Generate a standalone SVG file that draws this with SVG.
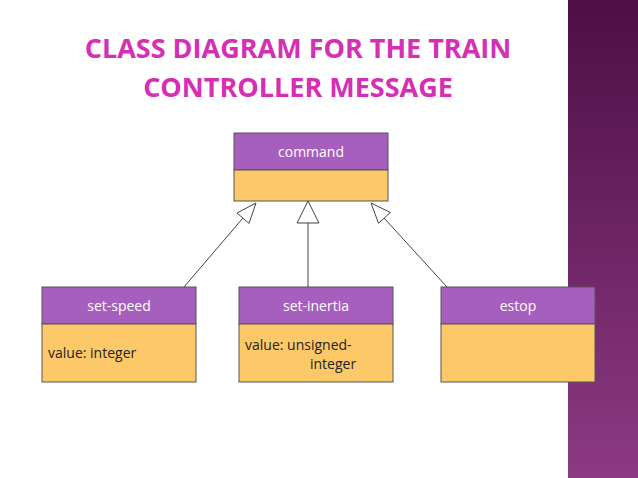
<svg xmlns="http://www.w3.org/2000/svg" width="638" height="478" viewBox="0 0 638 478">
<defs>
<linearGradient id="bar" x1="0" y1="0" x2="0" y2="1"><stop offset="0" stop-color="#4e0f45"/><stop offset="1" stop-color="#8c3a82"/></linearGradient>
<style>
.h{fill:#a65fbd;stroke:#555;stroke-width:1}
.b{fill:#fdc968;stroke:#555;stroke-width:1}
.t{font-family:"Open Sans","DejaVu Sans",sans-serif;font-size:14px}
.w{fill:#fff;text-anchor:middle}
.k{fill:#222}
.c{stroke:#444;stroke-width:1;fill:none}
.a{fill:#fff;stroke:#444;stroke-width:1}
</style>
</defs>
<rect width="638" height="478" fill="#fff"/>
<rect x="568" y="0" width="70" height="478" fill="url(#bar)"/>
<text x="298" y="58" text-anchor="middle" font-family="'Open Sans','DejaVu Sans',sans-serif" font-weight="bold" font-size="27" fill="#d42fb5">CLASS DIAGRAM FOR THE TRAIN</text>
<text x="298" y="97" text-anchor="middle" font-family="'Open Sans','DejaVu Sans',sans-serif" font-weight="bold" font-size="27" fill="#d42fb5">CONTROLLER MESSAGE</text>
<g id="command"><rect class="h" x="234" y="133" width="154" height="37"/><rect class="b" x="234" y="170" width="154" height="31"/><text class="t w" x="311" y="157">command</text></g>
<g id="set-speed"><rect class="h" x="42" y="287" width="154" height="37"/><rect class="b" x="42" y="324" width="154" height="58"/><text class="t w" x="119" y="311">set-speed</text><text class="t k" x="48" y="358">value: integer</text></g>
<g id="set-inertia"><rect class="h" x="239" y="287" width="154" height="37"/><rect class="b" x="239" y="324" width="154" height="58"/><text class="t w" x="316" y="311">set-inertia</text><text class="t k" x="245" y="350">value: unsigned-</text><text class="t k" x="310" y="369">integer</text></g>
<g id="estop"><rect class="h" x="441" y="287" width="154" height="37"/><rect class="b" x="441" y="324" width="154" height="58"/><text class="t w" x="518" y="311">estop</text></g>
<g id="connectors">
<line class="c" x1="184" y1="287" x2="243" y2="218"/><polygon class="a" points="256,203 249,223.4 237,213"/>
<line class="c" x1="308" y1="287" x2="308" y2="223"/><polygon class="a" points="308,201 319,223 297,223"/>
<line class="c" x1="447" y1="287" x2="384" y2="218"/><polygon class="a" points="371,203 390.4,212.5 378.5,223.3"/>
</g>
</svg>
